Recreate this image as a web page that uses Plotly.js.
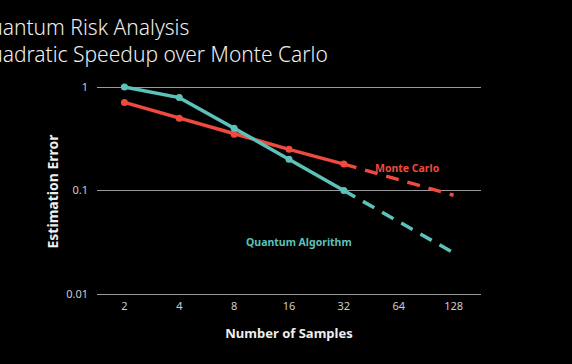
<!DOCTYPE html>
<html>
<head>
<meta charset="utf-8">
<script src="https://cdn.plot.ly/plotly-3.0.1.min.js"></script>
<style>
html,body{margin:0;padding:0;background:#000;}
#chart{width:572px;height:364px;}
</style>
</head>
<body>
<div id="chart"></div>
<script>
// Data
const samples = [2, 4, 8, 16, 32];
const quantumError = [1.0, 0.79, 0.40, 0.20, 0.10];
const monteCarloError = [0.71, 0.50, 0.35, 0.25, 0.18];
const extrapSamples = [32, 128];
const quantumExtrap = [0.10, 0.025];
const monteCarloExtrap = [0.18, 0.09];
const xTicks = [2, 4, 8, 16, 32, 64, 128];
const xTickLabels = ['2', '4', '8', '16', '32', '64', '128'];
const yTicks = [0.01, 0.1, 1];
const yTickLabels = ['0.01', '0.1', '1'];
const titleLines = ['Quantum Risk Analysis', 'Quadratic Speedup over Monte Carlo'];

const RED = '#ef4a3d';
const TEAL = '#5cc2ba';

const traces = [
  {x: samples, y: monteCarloError, mode: 'lines+markers', line: {color: RED, width: 3.5},
   marker: {color: RED, size: 7}, cliponaxis: false, hoverinfo: 'skip'},
  {x: extrapSamples, y: monteCarloExtrap, mode: 'lines', line: {color: RED, width: 3.5, dash: '13px,9px'},
   cliponaxis: false, hoverinfo: 'skip'},
  {x: samples, y: quantumError, mode: 'lines+markers', line: {color: TEAL, width: 3.5},
   marker: {color: TEAL, size: 7}, cliponaxis: false, hoverinfo: 'skip'},
  {x: extrapSamples, y: quantumExtrap, mode: 'lines', line: {color: TEAL, width: 3.5, dash: '13px,9px'},
   cliponaxis: false, hoverinfo: 'skip'}
];

const L2 = Math.log10(2);
const PAD = 3 / 103.5;
const layout = {
  width: 572, height: 364,
  paper_bgcolor: '#000', plot_bgcolor: '#000',
  showlegend: false,
  margin: {l: 97, r: 91, t: 84, b: 67},
  font: {family: 'Noto Sans, sans-serif', color: '#ddd'},
  xaxis: {
    type: 'log', range: [0.5 * L2, 7.5 * L2],
    tickvals: xTicks, ticktext: xTickLabels,
    showgrid: false, zeroline: false, showline: false, ticks: '',
    tickfont: {size: 11, color: '#ccc'}, ticklabelstandoff: 1,
    title: {text: 'Number of Samples', font: {size: 13, color: '#eee', weight: 'bold'}, standoff: 16}
  },
  yaxis: {
    type: 'log', range: [-2 - PAD, 0 + PAD],
    tickvals: yTicks, ticktext: yTickLabels,
    showgrid: true, gridcolor: '#9a9a9a', gridwidth: 1,
    zeroline: false, showline: false, ticks: '',
    tickfont: {size: 11, color: '#ccc'}, ticklabelstandoff: 8
  },
  annotations: [
    {text: titleLines.join('<br>'), xref: 'paper', yref: 'paper', x: -0.3255, y: 1.342,
     xanchor: 'left', yanchor: 'top', align: 'left', showarrow: false,
     font: {family: 'Noto Sans, sans-serif', size: 21, color: '#eee', weight: 300}},
    {text: '<b>Estimation Error</b>', xref: 'paper', yref: 'paper', x: -0.1146, y: 0.5,
     xanchor: 'center', yanchor: 'middle', textangle: -90, showarrow: false,
     font: {size: 14, color: '#eee'}},
    {text: '<b>Monte Carlo</b>', x: Math.log10(71.5), y: -0.785, xref: 'x', yref: 'y',
     showarrow: false, font: {size: 10.5, color: RED}},
    {text: '<b>Quantum Algorithm</b>', x: Math.log10(18.1), y: -1.5, xref: 'x', yref: 'y',
     showarrow: false, font: {size: 10.5, color: TEAL}}
  ]
};

Plotly.newPlot('chart', traces, layout, {displayModeBar: false, staticPlot: true});
</script>
</body>
</html>
